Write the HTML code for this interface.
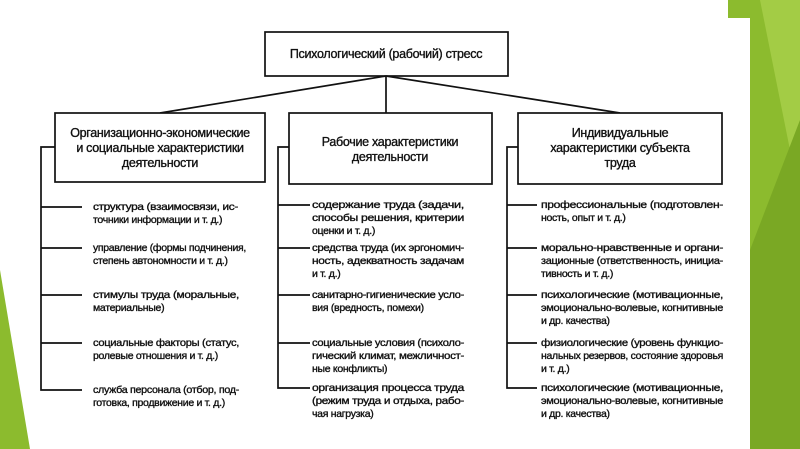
<!DOCTYPE html>
<html><head><meta charset="utf-8"><style>
html,body{margin:0;padding:0;width:800px;height:449px;overflow:hidden;background:#fff}
text{font-family:"Liberation Sans",sans-serif;fill:#111;stroke:#111;stroke-width:0.35px}
.t{font-size:10.5px;letter-spacing:-0.3px}
.h{font-size:12.5px;letter-spacing:-0.3px}
</style></head><body>
<svg width="800" height="449" viewBox="0 0 800 449" xmlns="http://www.w3.org/2000/svg">
<rect width="800" height="449" fill="#fff"/>
<polygon points="728,0 800,0 800,449 750,449 750,18 728,18" fill="#8cbb2e"/>
<polygon points="760,0 800,0 800,200" fill="#a3cc45"/>
<polygon points="750,250 800,120 800,449 750,449" fill="#7aa824"/>
<polygon points="0,270 30,449 0,449" fill="#8cbb2e"/>
<g stroke="#111" fill="none" stroke-width="1.7">
<rect x="265" y="32" width="243" height="44"/>
<line x1="386" y1="76" x2="160" y2="113"/>
<line x1="386" y1="76" x2="386" y2="113"/>
<line x1="386" y1="76" x2="620" y2="113"/>
<rect x="55" y="113" width="210" height="69" fill="#fff"/>
<rect x="289" y="113" width="203" height="71" fill="#fff"/>
<rect x="518" y="113" width="204" height="71" fill="#fff"/>
<polyline points="55,147 41,147 41,390 82,390"/>
<line x1="41" y1="207" x2="82" y2="207"/><line x1="41" y1="248" x2="82" y2="248"/><line x1="41" y1="295" x2="82" y2="295"/><line x1="41" y1="343" x2="82" y2="343"/>
<polyline points="289,147 278,147 278,388 310,388"/>
<line x1="278" y1="205" x2="310" y2="205"/><line x1="278" y1="248" x2="310" y2="248"/><line x1="278" y1="295" x2="310" y2="295"/><line x1="278" y1="343" x2="310" y2="343"/>
<polyline points="518,147 507,147 507,388 537,388"/>
<line x1="507" y1="205" x2="537" y2="205"/><line x1="507" y1="248" x2="537" y2="248"/><line x1="507" y1="295" x2="537" y2="295"/><line x1="507" y1="343" x2="537" y2="343"/>
</g>
<text class="h" x="386" y="58" text-anchor="middle">Психологический (рабочий) стресс</text>
<text class="h" x="160" y="137" text-anchor="middle">Организационно-экономические</text>
<text class="h" x="160" y="152" text-anchor="middle">и социальные характеристики</text>
<text class="h" x="160" y="167" text-anchor="middle">деятельности</text>
<text class="h" x="390" y="146" text-anchor="middle">Рабочие характеристики</text>
<text class="h" x="390" y="161" text-anchor="middle">деятельности</text>
<text class="h" x="620" y="137" text-anchor="middle">Индивидуальные</text>
<text class="h" x="620" y="152" text-anchor="middle">характеристики субъекта</text>
<text class="h" x="620" y="167" text-anchor="middle">труда</text>
<g class="t">
<text x="93" y="210" textLength="145" lengthAdjust="spacingAndGlyphs">структура (взаимосвязи, ис-</text>
<text x="93" y="223">точники информации и т. д.)</text>
<text x="93" y="251" textLength="153" lengthAdjust="spacingAndGlyphs">управление (формы подчинения,</text>
<text x="93" y="264">степень автономности и т. д.)</text>
<text x="93" y="298" textLength="146" lengthAdjust="spacingAndGlyphs">стимулы труда (моральные,</text>
<text x="93" y="311">материальные)</text>
<text x="93" y="346" textLength="146" lengthAdjust="spacingAndGlyphs">социальные факторы (статус,</text>
<text x="93" y="359">ролевые отношения и т. д.)</text>
<text x="93" y="393" textLength="146" lengthAdjust="spacingAndGlyphs">служба персонала (отбор, под-</text>
<text x="93" y="406">готовка, продвижение и т. д.)</text>

<text x="312" y="208" textLength="152" lengthAdjust="spacingAndGlyphs">содержание труда (задачи,</text>
<text x="312" y="221" textLength="152" lengthAdjust="spacingAndGlyphs">способы решения, критерии</text>
<text x="312" y="234">оценки и т. д.)</text>
<text x="312" y="251" textLength="152" lengthAdjust="spacingAndGlyphs">средства труда (их эргономич-</text>
<text x="312" y="264" textLength="152" lengthAdjust="spacingAndGlyphs">ность, адекватность задачам</text>
<text x="312" y="277">и т. д.)</text>
<text x="312" y="298" textLength="152" lengthAdjust="spacingAndGlyphs">санитарно-гигиенические усло-</text>
<text x="312" y="311">вия (вредность, помехи)</text>
<text x="312" y="346" textLength="152" lengthAdjust="spacingAndGlyphs">социальные условия (психоло-</text>
<text x="312" y="359" textLength="152" lengthAdjust="spacingAndGlyphs">гический климат, межличност-</text>
<text x="312" y="372">ные конфликты)</text>
<text x="312" y="391" textLength="152" lengthAdjust="spacingAndGlyphs">организация процесса труда</text>
<text x="312" y="404" textLength="152" lengthAdjust="spacingAndGlyphs">(режим труда и отдыха, рабо-</text>
<text x="312" y="417">чая нагрузка)</text>

<text x="541" y="208" textLength="182" lengthAdjust="spacingAndGlyphs">профессиональные (подготовлен-</text>
<text x="541" y="221">ность, опыт и т. д.)</text>
<text x="541" y="251" textLength="182" lengthAdjust="spacingAndGlyphs">морально-нравственные и органи-</text>
<text x="541" y="264" textLength="182" lengthAdjust="spacingAndGlyphs">зационные (ответственность, инициа-</text>
<text x="541" y="277">тивность и т. д.)</text>
<text x="541" y="298" textLength="182" lengthAdjust="spacingAndGlyphs">психологические (мотивационные,</text>
<text x="541" y="311" textLength="182" lengthAdjust="spacingAndGlyphs">эмоционально-волевые, когнитивные</text>
<text x="541" y="324">и др. качества)</text>
<text x="541" y="346" textLength="182" lengthAdjust="spacingAndGlyphs">физиологические (уровень функцио-</text>
<text x="541" y="359" textLength="182" lengthAdjust="spacingAndGlyphs">нальных резервов, состояние здоровья</text>
<text x="541" y="372">и т. д.)</text>
<text x="541" y="391" textLength="182" lengthAdjust="spacingAndGlyphs">психологические (мотивационные,</text>
<text x="541" y="404" textLength="182" lengthAdjust="spacingAndGlyphs">эмоционально-волевые, когнитивные</text>
<text x="541" y="417">и др. качества)</text>
</g>
</svg>
</body></html>
